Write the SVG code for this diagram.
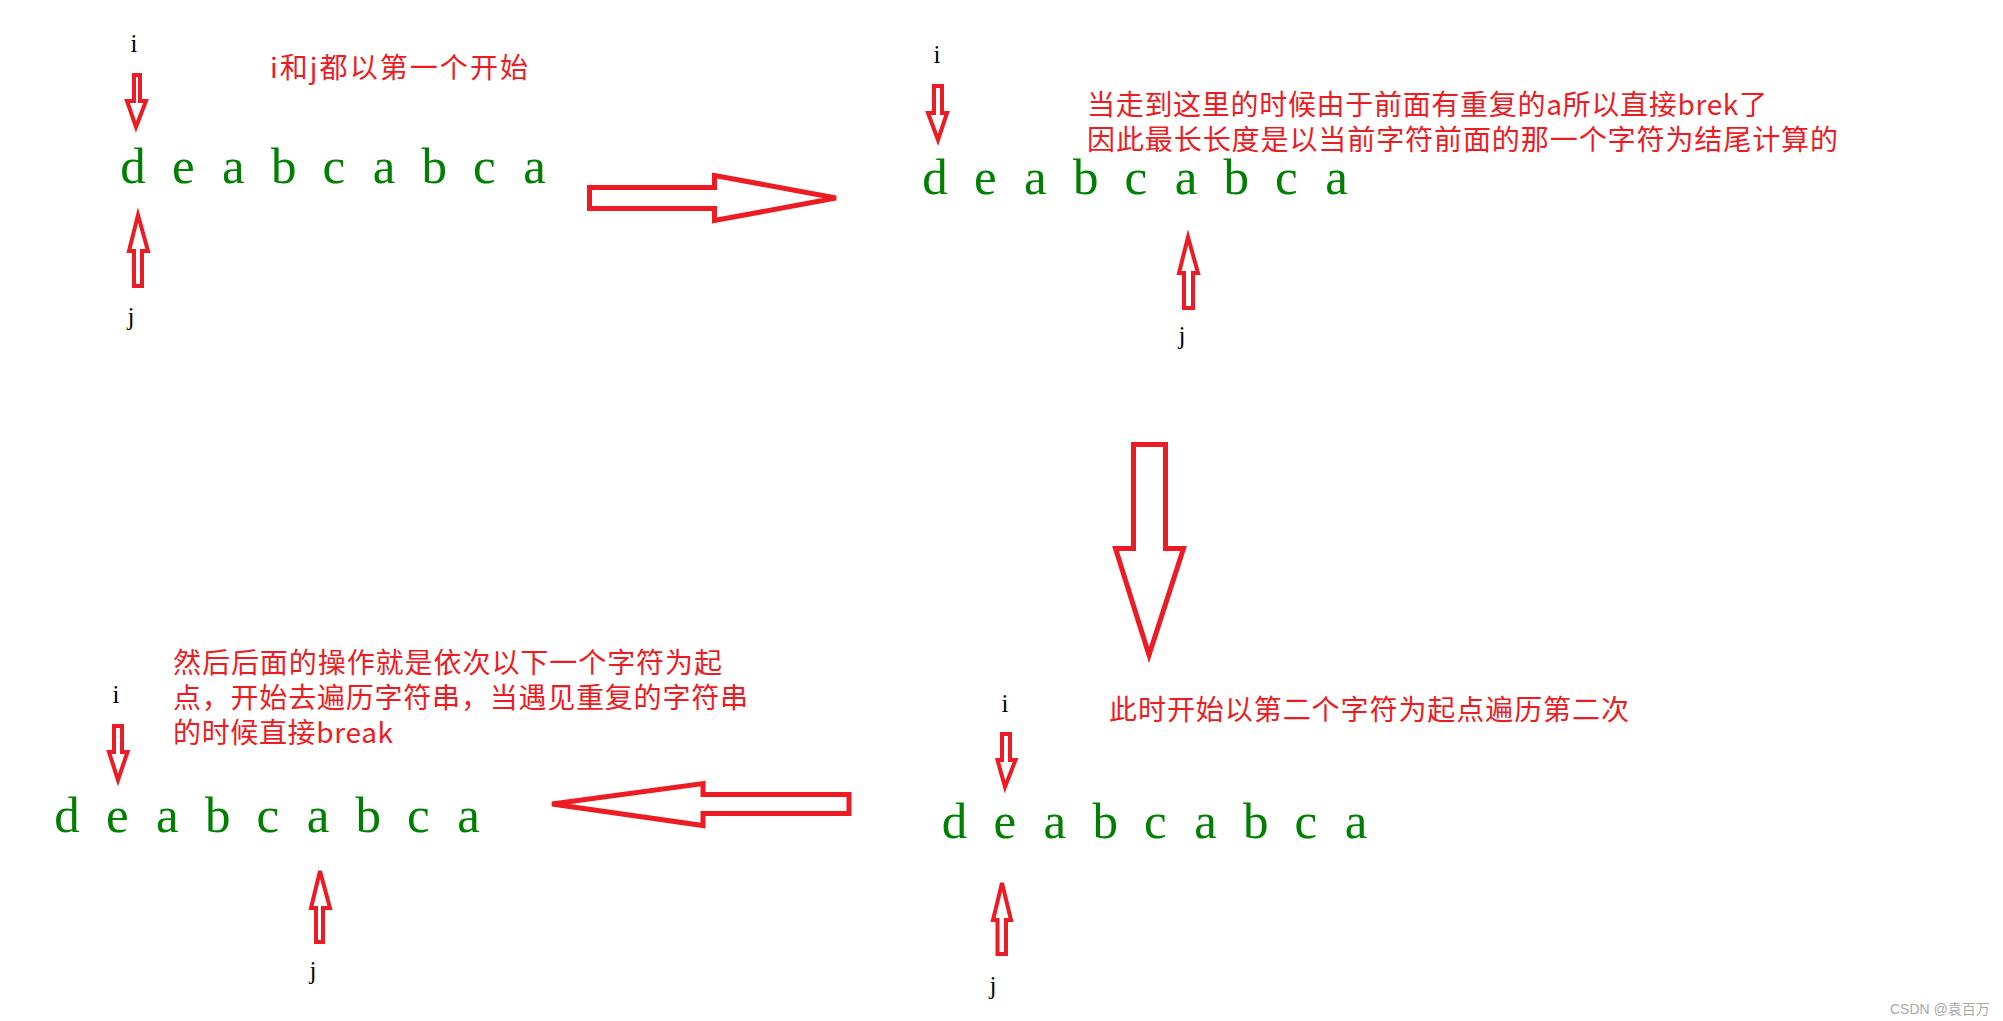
<svg xmlns="http://www.w3.org/2000/svg" width="2003" height="1021" viewBox="0 0 2003 1021">
<style>
.seq{font-family:"Liberation Serif","DejaVu Serif",serif;font-size:51px;fill:#008000}
.lbl{font-family:"Liberation Serif","DejaVu Serif",serif;font-size:25px;fill:#000;text-anchor:middle}
.note{font-family:"Noto Sans CJK SC","Noto Sans",sans-serif;font-size:28px;fill:#ED1C24}
.ptr{fill:#fff;stroke:#ED1C24;stroke-width:4;stroke-linejoin:miter}
.big{fill:#fff;stroke:#ED1C24;stroke-width:5;stroke-linejoin:miter}
.wm{font-family:"Liberation Sans","Noto Sans CJK SC",sans-serif;font-size:14px;fill:#a8a8a8}
</style>
<rect width="2003" height="1021" fill="#fff"/>

<g id="state1">
  <text class="lbl" x="134" y="52">i</text>
  <path class="ptr" d="M134,75 H140 V101 H146 L136,127 L127,101 H134 Z"/>
  <text class="note" x="270" y="77.5" textLength="258" lengthAdjust="spacing">i和j都以第一个开始</text>
  <g transform="translate(133,183)">
    <text class="seq" x="-12.8" y="0">d <tspan x="38.9">e</tspan> <tspan x="89.1">a</tspan> <tspan x="137.9">b</tspan> <tspan x="189.5">c</tspan> <tspan x="239.7">a</tspan> <tspan x="288.5">b</tspan> <tspan x="340.1">c</tspan> <tspan x="390.3">a</tspan></text>
  </g>
  <path class="ptr" d="M134,286 H142 V251 H148 L138,215 L129,251 H134 Z"/>
  <text class="lbl" x="131" y="325">j</text>
</g>

<g id="state2">
  <text class="lbl" x="937" y="63">i</text>
  <path class="ptr" d="M934,86 H942 V113 H947 L938,140 L928,113 H934 Z"/>
  <text class="note" x="1087" y="114.5" textLength="680" lengthAdjust="spacing">当走到这里的时候由于前面有重复的a所以直接brek了</text>
  <text class="note" x="1087" y="149.5" textLength="751" lengthAdjust="spacing">因此最长长度是以当前字符前面的那一个字符为结尾计算的</text>
  <g transform="translate(935,194)">
    <text class="seq" x="-12.8" y="0">d <tspan x="38.9">e</tspan> <tspan x="89.1">a</tspan> <tspan x="137.9">b</tspan> <tspan x="189.5">c</tspan> <tspan x="239.7">a</tspan> <tspan x="288.5">b</tspan> <tspan x="340.1">c</tspan> <tspan x="390.3">a</tspan></text>
  </g>
  <path class="ptr" d="M1184,308 H1193 V273 H1198 L1188,237 L1179,273 H1184 Z"/>
  <text class="lbl" x="1182" y="344">j</text>
</g>

<g id="state3">
  <text class="lbl" x="1005" y="712">i</text>
  <path class="ptr" d="M1002,734 H1010 V760 H1015.5 L1005,787 L997.5,760 H1002 Z"/>
  <text class="note" x="1109" y="719.5" textLength="520" lengthAdjust="spacing">此时开始以第二个字符为起点遍历第二次</text>
  <g transform="translate(954.5,838)">
    <text class="seq" x="-12.8" y="0">d <tspan x="38.9">e</tspan> <tspan x="89.1">a</tspan> <tspan x="137.9">b</tspan> <tspan x="189.5">c</tspan> <tspan x="239.7">a</tspan> <tspan x="288.5">b</tspan> <tspan x="340.1">c</tspan> <tspan x="390.3">a</tspan></text>
  </g>
  <path class="ptr" d="M997.5,954 H1006 V920 H1011 L1002,883 L993,920 H997.5 Z"/>
  <text class="lbl" x="993" y="994">j</text>
</g>

<g id="state4">
  <text class="note" x="173" y="672.5" textLength="549" lengthAdjust="spacing">然后后面的操作就是依次以下一个字符为起</text>
  <text class="note" x="173" y="707.5" textLength="575" lengthAdjust="spacing">点，开始去遍历字符串，当遇见重复的字符串</text>
  <text class="note" x="173" y="742.5" textLength="220" lengthAdjust="spacing">的时候直接break</text>
  <text class="lbl" x="116" y="703">i</text>
  <path class="ptr" d="M114,726 H122 V752 H127.5 L118,780 L109,752 H114 Z"/>
  <g transform="translate(67,832)">
    <text class="seq" x="-12.8" y="0">d <tspan x="38.9">e</tspan> <tspan x="89.1">a</tspan> <tspan x="137.9">b</tspan> <tspan x="189.5">c</tspan> <tspan x="239.7">a</tspan> <tspan x="288.5">b</tspan> <tspan x="340.1">c</tspan> <tspan x="390.3">a</tspan></text>
  </g>
  <path class="ptr" d="M316,942 H323 V908 H330 L320,871 L311,908 H316 Z"/>
  <text class="lbl" x="313" y="979">j</text>
</g>

<g id="connectors">
  <path class="big" d="M589.5,187.5 H714.5 V175.5 L836,198 L714.5,220.5 V208.5 H589.5 Z"/>
  <path class="big" d="M1133.5,444.5 H1165.5 V548.5 H1183.5 L1149,655 L1115.5,548.5 H1133.5 Z"/>
  <path class="big" d="M849,794.5 H703 V783.5 L552,804 L703,825.5 V813.5 H849 Z"/>
</g>

<text class="wm" x="1890" y="1014">CSDN @袁百万</text>
</svg>
